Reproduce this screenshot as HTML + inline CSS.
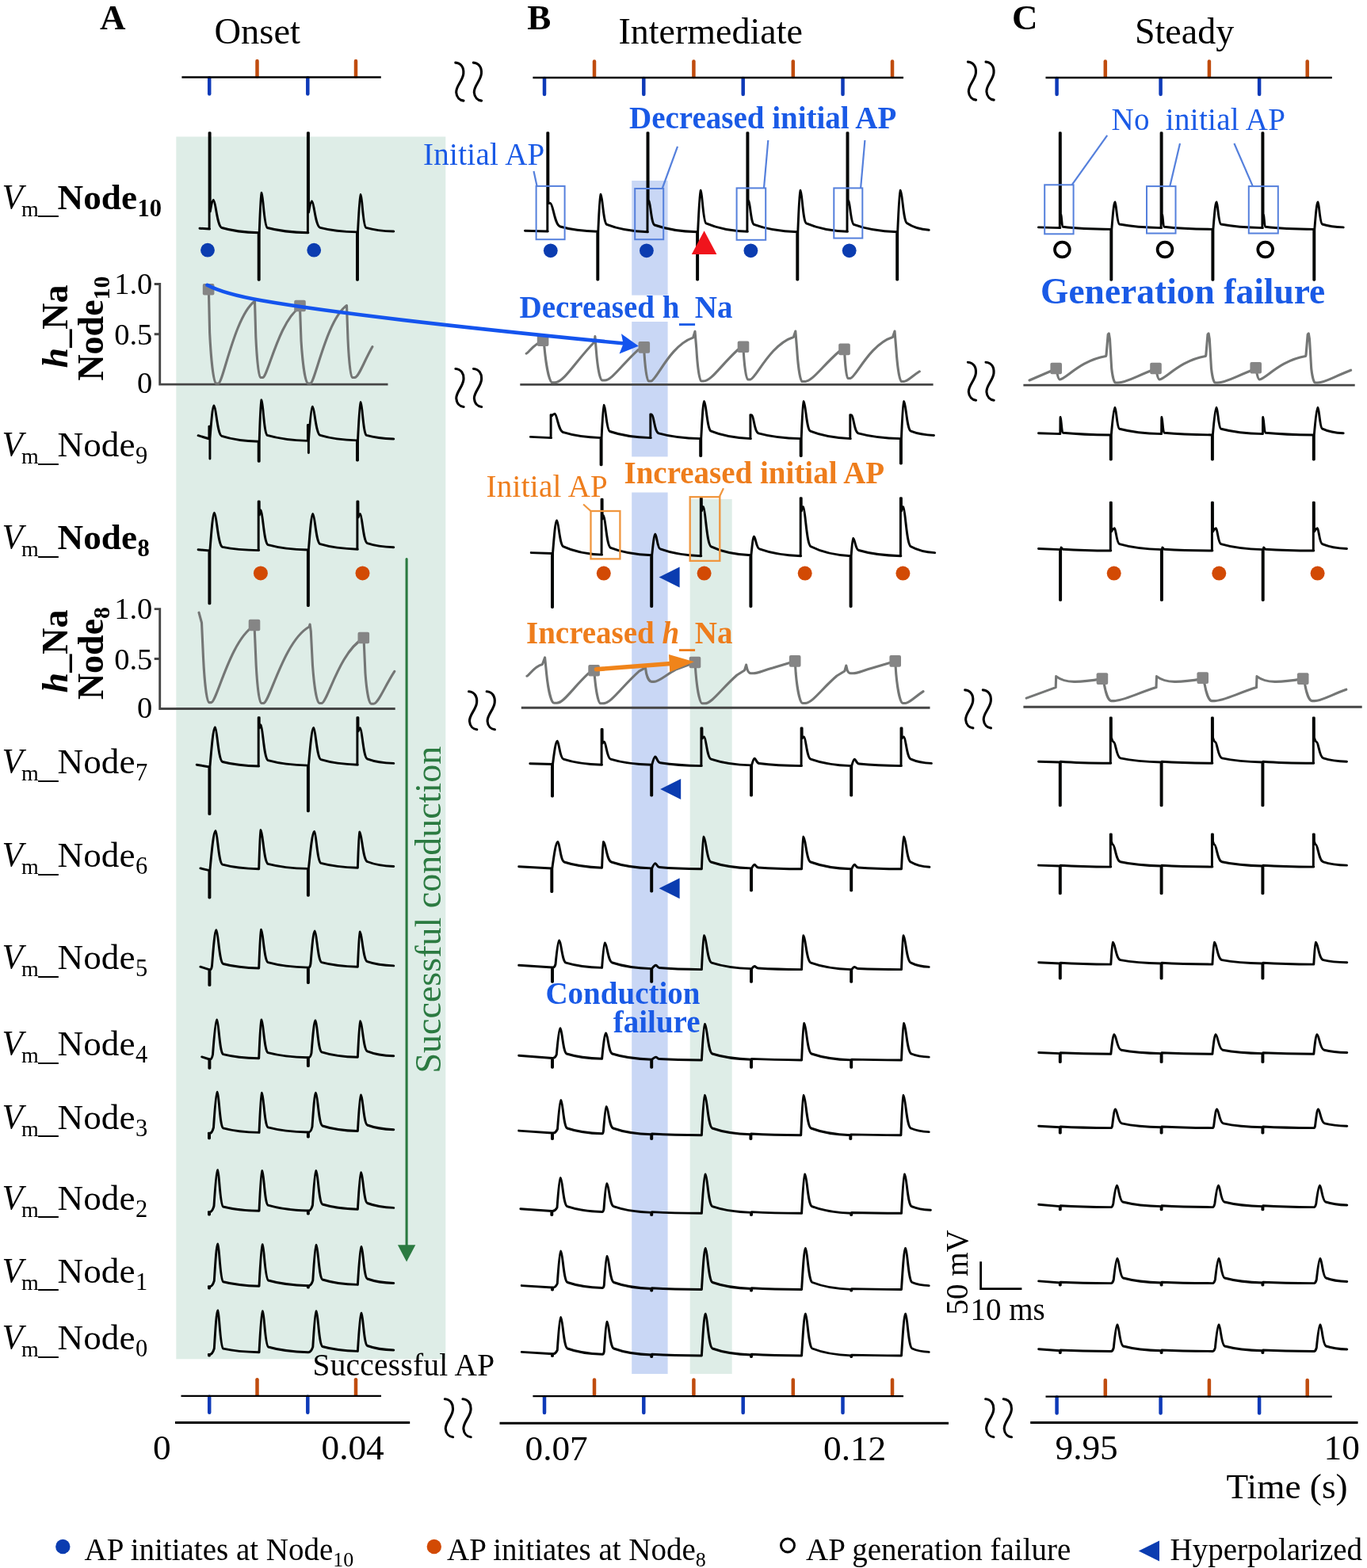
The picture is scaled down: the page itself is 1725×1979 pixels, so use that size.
<!DOCTYPE html>
<html lang="en"><head><meta charset="utf-8"><title>Figure</title>
<style>
html,body{margin:0;padding:0;background:#fff;}
body{width:1725px;height:1979px;overflow:hidden;}
svg{display:block;font-family:'Liberation Serif', 'Times New Roman', Times, serif;}
text{white-space:pre;}
</style></head><body>
<svg width="1725" height="1979" viewBox="0 0 1725 1979">
<rect x="222.3" y="172.5" width="340" height="1542.8" fill="#deede7"/>
<rect x="870.7" y="630" width="53" height="1104" fill="#deede7"/>
<rect x="797.2" y="228" width="45.4" height="144.6" fill="#c9d7f5"/>
<rect x="797.2" y="406" width="45.4" height="170.4" fill="#c9d7f5"/>
<rect x="797.2" y="621.5" width="45.4" height="1112.5" fill="#c9d7f5"/>
<line x1="324.5" y1="77" x2="324.5" y2="96.5" stroke="#c04c0e" stroke-width="4.5" stroke-linecap="round"/>
<line x1="449" y1="77" x2="449" y2="96.5" stroke="#c04c0e" stroke-width="4.5" stroke-linecap="round"/>
<line x1="264.2" y1="98.5" x2="264.2" y2="118.5" stroke="#0e3ab8" stroke-width="4.5" stroke-linecap="round"/>
<line x1="388.3" y1="98.5" x2="388.3" y2="118.5" stroke="#0e3ab8" stroke-width="4.5" stroke-linecap="round"/>
<line x1="229.4" y1="97.5" x2="480.8" y2="97.5" stroke="#000" stroke-width="2.3"/>
<line x1="750" y1="77.5" x2="750" y2="97" stroke="#c04c0e" stroke-width="4.5" stroke-linecap="round"/>
<line x1="875.4" y1="77.5" x2="875.4" y2="97" stroke="#c04c0e" stroke-width="4.5" stroke-linecap="round"/>
<line x1="1000.8" y1="77.5" x2="1000.8" y2="97" stroke="#c04c0e" stroke-width="4.5" stroke-linecap="round"/>
<line x1="1126" y1="77.5" x2="1126" y2="97" stroke="#c04c0e" stroke-width="4.5" stroke-linecap="round"/>
<line x1="687" y1="99" x2="687" y2="119" stroke="#0e3ab8" stroke-width="4.5" stroke-linecap="round"/>
<line x1="812.3" y1="99" x2="812.3" y2="119" stroke="#0e3ab8" stroke-width="4.5" stroke-linecap="round"/>
<line x1="937.7" y1="99" x2="937.7" y2="119" stroke="#0e3ab8" stroke-width="4.5" stroke-linecap="round"/>
<line x1="1063.5" y1="99" x2="1063.5" y2="119" stroke="#0e3ab8" stroke-width="4.5" stroke-linecap="round"/>
<line x1="672.4" y1="98" x2="1140" y2="98" stroke="#000" stroke-width="2.3"/>
<line x1="1394.8" y1="77.5" x2="1394.8" y2="97" stroke="#c04c0e" stroke-width="4.5" stroke-linecap="round"/>
<line x1="1525.9" y1="77.5" x2="1525.9" y2="97" stroke="#c04c0e" stroke-width="4.5" stroke-linecap="round"/>
<line x1="1649.7" y1="77.5" x2="1649.7" y2="97" stroke="#c04c0e" stroke-width="4.5" stroke-linecap="round"/>
<line x1="1333.6" y1="99" x2="1333.6" y2="119" stroke="#0e3ab8" stroke-width="4.5" stroke-linecap="round"/>
<line x1="1464.6" y1="99" x2="1464.6" y2="119" stroke="#0e3ab8" stroke-width="4.5" stroke-linecap="round"/>
<line x1="1589.1" y1="99" x2="1589.1" y2="119" stroke="#0e3ab8" stroke-width="4.5" stroke-linecap="round"/>
<line x1="1319.5" y1="98" x2="1680.8" y2="98" stroke="#000" stroke-width="2.3"/>
<line x1="324.5" y1="1741.3" x2="324.5" y2="1760.8" stroke="#c04c0e" stroke-width="4.5" stroke-linecap="round"/>
<line x1="449" y1="1741.3" x2="449" y2="1760.8" stroke="#c04c0e" stroke-width="4.5" stroke-linecap="round"/>
<line x1="264.2" y1="1762.8" x2="264.2" y2="1782.8" stroke="#0e3ab8" stroke-width="4.5" stroke-linecap="round"/>
<line x1="388.3" y1="1762.8" x2="388.3" y2="1782.8" stroke="#0e3ab8" stroke-width="4.5" stroke-linecap="round"/>
<line x1="228.5" y1="1761.8" x2="481" y2="1761.8" stroke="#000" stroke-width="2.3"/>
<line x1="750" y1="1741.6" x2="750" y2="1761.1" stroke="#c04c0e" stroke-width="4.5" stroke-linecap="round"/>
<line x1="875.4" y1="1741.6" x2="875.4" y2="1761.1" stroke="#c04c0e" stroke-width="4.5" stroke-linecap="round"/>
<line x1="1000.8" y1="1741.6" x2="1000.8" y2="1761.1" stroke="#c04c0e" stroke-width="4.5" stroke-linecap="round"/>
<line x1="1126" y1="1741.6" x2="1126" y2="1761.1" stroke="#c04c0e" stroke-width="4.5" stroke-linecap="round"/>
<line x1="687" y1="1763.1" x2="687" y2="1783.1" stroke="#0e3ab8" stroke-width="4.5" stroke-linecap="round"/>
<line x1="812.3" y1="1763.1" x2="812.3" y2="1783.1" stroke="#0e3ab8" stroke-width="4.5" stroke-linecap="round"/>
<line x1="937.7" y1="1763.1" x2="937.7" y2="1783.1" stroke="#0e3ab8" stroke-width="4.5" stroke-linecap="round"/>
<line x1="1063.5" y1="1763.1" x2="1063.5" y2="1783.1" stroke="#0e3ab8" stroke-width="4.5" stroke-linecap="round"/>
<line x1="672.4" y1="1762.1" x2="1140" y2="1762.1" stroke="#000" stroke-width="2.3"/>
<line x1="1394.8" y1="1742.1" x2="1394.8" y2="1761.6" stroke="#c04c0e" stroke-width="4.5" stroke-linecap="round"/>
<line x1="1525.9" y1="1742.1" x2="1525.9" y2="1761.6" stroke="#c04c0e" stroke-width="4.5" stroke-linecap="round"/>
<line x1="1649.7" y1="1742.1" x2="1649.7" y2="1761.6" stroke="#c04c0e" stroke-width="4.5" stroke-linecap="round"/>
<line x1="1333.6" y1="1763.6" x2="1333.6" y2="1783.6" stroke="#0e3ab8" stroke-width="4.5" stroke-linecap="round"/>
<line x1="1464.6" y1="1763.6" x2="1464.6" y2="1783.6" stroke="#0e3ab8" stroke-width="4.5" stroke-linecap="round"/>
<line x1="1589.1" y1="1763.6" x2="1589.1" y2="1783.6" stroke="#0e3ab8" stroke-width="4.5" stroke-linecap="round"/>
<line x1="1319.5" y1="1762.6" x2="1680.8" y2="1762.6" stroke="#000" stroke-width="2.3"/>
<line x1="221" y1="1795.6" x2="517.2" y2="1795.6" stroke="#000" stroke-width="3"/>
<line x1="630.5" y1="1796.2" x2="1197" y2="1796.2" stroke="#000" stroke-width="3"/>
<line x1="1300.2" y1="1795.5" x2="1713.5" y2="1795.5" stroke="#000" stroke-width="3"/>
<path transform="translate(574.8 79.1)" d="M0 0C7 0.5 10.8 6 10 14C9 23 0.4 29.5 0.9 37.5C1.4 44 5.5 47.5 10.2 48" fill="none" stroke="#000" stroke-width="3.1" stroke-linecap="round"/>
<path transform="translate(597.4 79.1)" d="M0 0C7 0.5 10.8 6 10 14C9 23 0.4 29.5 0.9 37.5C1.4 44 5.5 47.5 10.2 48" fill="none" stroke="#000" stroke-width="3.1" stroke-linecap="round"/>
<path transform="translate(1221.4 78.1)" d="M0 0C7 0.5 10.8 6 10 14C9 23 0.4 29.5 0.9 37.5C1.4 44 5.5 47.5 10.2 48" fill="none" stroke="#000" stroke-width="3.1" stroke-linecap="round"/>
<path transform="translate(1244 78.1)" d="M0 0C7 0.5 10.8 6 10 14C9 23 0.4 29.5 0.9 37.5C1.4 44 5.5 47.5 10.2 48" fill="none" stroke="#000" stroke-width="3.1" stroke-linecap="round"/>
<path transform="translate(574.9 465.5)" d="M0 0C7 0.5 10.8 6 10 14C9 23 0.4 29.5 0.9 37.5C1.4 44 5.5 47.5 10.2 48" fill="none" stroke="#000" stroke-width="3.1" stroke-linecap="round"/>
<path transform="translate(597.5 465.5)" d="M0 0C7 0.5 10.8 6 10 14C9 23 0.4 29.5 0.9 37.5C1.4 44 5.5 47.5 10.2 48" fill="none" stroke="#000" stroke-width="3.1" stroke-linecap="round"/>
<path transform="translate(1221.4 457.2)" d="M0 0C7 0.5 10.8 6 10 14C9 23 0.4 29.5 0.9 37.5C1.4 44 5.5 47.5 10.2 48" fill="none" stroke="#000" stroke-width="3.1" stroke-linecap="round"/>
<path transform="translate(1244 457.2)" d="M0 0C7 0.5 10.8 6 10 14C9 23 0.4 29.5 0.9 37.5C1.4 44 5.5 47.5 10.2 48" fill="none" stroke="#000" stroke-width="3.1" stroke-linecap="round"/>
<path transform="translate(591.6 872.8)" d="M0 0C7 0.5 10.8 6 10 14C9 23 0.4 29.5 0.9 37.5C1.4 44 5.5 47.5 10.2 48" fill="none" stroke="#000" stroke-width="3.1" stroke-linecap="round"/>
<path transform="translate(614.2 872.8)" d="M0 0C7 0.5 10.8 6 10 14C9 23 0.4 29.5 0.9 37.5C1.4 44 5.5 47.5 10.2 48" fill="none" stroke="#000" stroke-width="3.1" stroke-linecap="round"/>
<path transform="translate(1217.7 870.9)" d="M0 0C7 0.5 10.8 6 10 14C9 23 0.4 29.5 0.9 37.5C1.4 44 5.5 47.5 10.2 48" fill="none" stroke="#000" stroke-width="3.1" stroke-linecap="round"/>
<path transform="translate(1240.3 870.9)" d="M0 0C7 0.5 10.8 6 10 14C9 23 0.4 29.5 0.9 37.5C1.4 44 5.5 47.5 10.2 48" fill="none" stroke="#000" stroke-width="3.1" stroke-linecap="round"/>
<path transform="translate(561.4 1765.8)" d="M0 0C7 0.5 10.8 6 10 14C9 23 0.4 29.5 0.9 37.5C1.4 44 5.5 47.5 10.2 48" fill="none" stroke="#000" stroke-width="3.1" stroke-linecap="round"/>
<path transform="translate(584 1765.8)" d="M0 0C7 0.5 10.8 6 10 14C9 23 0.4 29.5 0.9 37.5C1.4 44 5.5 47.5 10.2 48" fill="none" stroke="#000" stroke-width="3.1" stroke-linecap="round"/>
<path transform="translate(1243.7 1765.8)" d="M0 0C7 0.5 10.8 6 10 14C9 23 0.4 29.5 0.9 37.5C1.4 44 5.5 47.5 10.2 48" fill="none" stroke="#000" stroke-width="3.1" stroke-linecap="round"/>
<path transform="translate(1266.3 1765.8)" d="M0 0C7 0.5 10.8 6 10 14C9 23 0.4 29.5 0.9 37.5C1.4 44 5.5 47.5 10.2 48" fill="none" stroke="#000" stroke-width="3.1" stroke-linecap="round"/>
<path d="M194.7 358.5 H201.7 V485.1 H489.5 M194.7 421.8 H201.7" fill="none" stroke="#454545" stroke-width="2.9"/>
<path d="M194.7 768.6 H201.7 V894.5 H498.7 M194.7 831.5 H201.7" fill="none" stroke="#454545" stroke-width="2.9"/>
<line x1="656.3" y1="485.4" x2="1177.6" y2="485.4" stroke="#454545" stroke-width="2.9"/>
<line x1="1291.4" y1="486.1" x2="1709.7" y2="486.1" stroke="#454545" stroke-width="2.9"/>
<line x1="657.8" y1="893.3" x2="1173.5" y2="893.3" stroke="#454545" stroke-width="2.9"/>
<line x1="1291.4" y1="892.3" x2="1718.7" y2="892.3" stroke="#454545" stroke-width="2.9"/>
<path d="M263.4 366 L264.6 420 C266.2 452 269.4 484 272.6 484 L275.8 484 C281.7 481.9 296.4 398.7 321.5 380 L322.8 425 C324 450.8 326.3 476.5 328.6 476.5 L331.8 476.5 C337.9 474.7 352.8 403.9 378.5 388 L380 430 C381.7 457 385.2 484 388.6 484 L391.8 484 C397.7 482 412.4 403.3 437.5 385.6 L439 428 C440.1 452.2 442.2 476.5 444.4 476.5 L447.6 476.5 C452.5 476.5 458.8 457.1 470 437.6" fill="none" stroke="#747675" stroke-width="3.1" stroke-linejoin="round" stroke-linecap="round"/>
<path d="M251 773.2 L254.5 786 L256.5 830 C257.9 858.3 260.8 886.6 263.6 886.6 L266.8 886.6 C273.8 884.7 291 807.4 320.5 790 L321.3 796 L323.2 840 C324.5 863.8 327 887.5 329.6 887.5 L332.8 887.5 C340.3 885.6 358.7 808.4 390.3 791 L391.1 788 L392.3 797 L394.5 840 C396.2 863.8 399.6 887.5 403 887.5 L406.2 887.5 C413 885.9 429.7 820.7 458.5 806 L459.3 812 L461 850 C462.4 869.1 465.3 888.2 468.2 888.2 L471.4 888.2 C477.2 888.2 484.6 867.8 497.8 847.4" fill="none" stroke="#747675" stroke-width="3.1" stroke-linejoin="round" stroke-linecap="round"/>
<path d="M664.1 446.2 C666.8 445.9 673.3 433.7 684.5 431 L686.8 437 C688.9 459.9 693 482.8 697.2 482.8 L700.4 482.8 C711.4 482.8 725.3 457.1 750.2 431.5 L750.9 424.6 L752.3 442 C753.8 461 756.7 480 759.7 480 L762.9 480 C772.2 480 784 460.9 805 441.8 L812.8 439 L813 446 C814.1 463.5 816.2 481 818.4 481 L821.6 481 C828.5 479.9 845.5 436 874.6 426.1 L877 418.3 L878.8 440 C880 460.5 882.4 481 884.8 481 L888 481 C897.5 481 909.5 461.2 931 441.5 L938 438 L938.3 445 C939.4 462 941.5 479 943.7 479 L946.9 479 C954 477.9 971.4 435.1 1001.3 425.5 L1003.8 418 L1005.6 440 C1006.9 460.8 1009.6 481.5 1012.2 481.5 L1015.4 481.5 C1025 481.5 1037.2 462.5 1059 443.5 L1065.5 441 L1065.8 447 C1066.6 462.2 1068.3 477.5 1069.9 477.5 L1073.1 477.5 C1080 476.5 1097.1 434.9 1126.5 425.5 L1129 418 L1130.8 440 C1132.2 460.8 1134.9 481.5 1137.6 481.5 L1140.8 481.5 C1145.1 481.5 1150.5 475.1 1160.3 468.8" fill="none" stroke="#747675" stroke-width="3.1" stroke-linejoin="round" stroke-linecap="round"/>
<path d="M664.9 853.3 C667.4 853 673.7 841.2 684.4 838.5 L687.6 829.9 L689.6 850 C691.5 868.6 695.4 887.3 699.3 887.3 L702.5 887.3 C711.3 887.3 722.4 868.8 742.3 850.2 L749.6 846.3 L750.6 856 C752.1 871.9 755 887.8 757.9 887.8 L761.1 887.8 C771.1 887.8 783.8 867.5 806.5 847.1 L813.3 843.4 L814.3 841.6 L815.6 850 C816.9 855.2 819.5 860.4 822.1 860.4 L825.3 860.4 C831.5 860.4 839.4 852.5 853.4 844.7 L877 836.1 L878 850 C879.6 868.9 882.9 887.8 886.2 887.8 L889.4 887.8 C898.3 887.8 909.7 869.9 930 852 L939.5 846 L941.6 839.1 L943 845 C943.9 847.4 945.6 849.8 947.4 849.8 L950.6 849.8 C956 849.8 962.8 846.4 975 843 L1003.2 834.4 L1004.2 850 C1005.9 868.8 1009.4 887.5 1012.9 887.5 L1016.1 887.5 C1024.9 887.5 1036 870.2 1056 853 L1065.8 847 L1067.8 840 L1069.2 846 C1070 847.9 1071.7 849.8 1073.4 849.8 L1076.6 849.8 C1082 849.8 1088.8 846.4 1101 843 L1129.7 834.4 L1130.7 850 C1132.4 868.8 1135.9 887.5 1139.4 887.5 L1142.6 887.5 C1147.5 887.5 1153.8 880 1165 872.6" fill="none" stroke="#747675" stroke-width="3.1" stroke-linejoin="round" stroke-linecap="round"/>
<path d="M1299 480 L1332.7 465.5 L1334.2 472 C1334.9 475.1 1335.9 479 1337.3 479 C1344.9 478.4 1363.5 454.8 1395.5 449.5 L1396 448 L1398.2 422 L1399.3 420.8 L1400.5 428 L1402.7 465 C1403.7 474 1405.6 483 1407.6 483 L1410.8 483 C1421.3 483 1434.7 474.2 1458.5 465.5 L1460 472 C1460.7 475.1 1461.7 479 1463.1 479 C1470.7 478.4 1489.3 454.8 1521.3 449.5 L1521.8 448 L1524 422 L1525.1 420.8 L1526.3 428 L1528.5 465 C1529.5 474 1531.4 483 1533.4 483 L1536.6 483 C1547.2 483 1560.7 474.2 1584.7 465.5 L1586.2 472 C1586.9 475.1 1587.9 479 1589.3 479 C1596.9 478.4 1615.5 454.8 1647.5 449.5 L1648 448 L1650.2 422 L1651.3 420.8 L1652.5 428 L1654.7 465 C1655.7 474 1657.6 483 1659.6 483 L1662.8 483 C1672 483 1683.7 475.1 1704.6 467.2" fill="none" stroke="#747675" stroke-width="3.1" stroke-linejoin="round" stroke-linecap="round"/>
<path d="M1295.2 881.1 L1332.2 867.6 L1332.7 853.6 C1344.3 862.6 1361.8 861.6 1390.9 856.6 L1393.4 864 C1395.2 874.3 1398.7 884.6 1402.3 884.6 L1405.5 884.6 C1417.3 884.6 1432.2 876.1 1459 867.6 L1459.5 853.6 C1471.1 862.6 1488.6 861.6 1517.7 856.6 L1520.2 864 C1522 874.3 1525.5 884.6 1529.1 884.6 L1532.3 884.6 C1544 884.6 1558.9 876.1 1585.5 867.6 L1586 853.6 C1597.6 862.6 1615.1 861.6 1644.2 856.6 L1646.7 864 C1648.5 874.3 1652 884.6 1655.6 884.6 L1658.8 884.6 C1667.6 884.6 1678.8 877.4 1698.8 870.2" fill="none" stroke="#747675" stroke-width="3.1" stroke-linejoin="round" stroke-linecap="round"/>
<path d="M252 288.2 L264.6 289 L264.1 289 L264.1 167.6 L265.1 167.6 L265.2 267 C266.6 259 267.9 252.8 269.3 252.5 C272.3 253.2 273.8 285.8 280 287.5 C291.7 291 308 293.3 326.7 293.8 L326.2 293.8 L326.2 353.2 L327.2 353.2 L327.2 293.8 C328.2 266 329 244.3 330 243.3 C332 244.2 333.1 285.3 337.3 287.5 C350.2 291 368.3 293.3 388.9 293.8 L388.4 293.8 L388.4 167.6 L389.4 167.6 L389.5 268 C390.9 260.2 392.1 254.2 393.5 253.9 C396.4 254.6 397.9 285.6 404 287.3 C415.8 290.4 432.2 292.5 451 292.9 L450.5 292.9 L450.5 353.2 L451.5 353.2 L451.5 292.9 C452.8 266.8 453.8 246.4 455.1 245.5 C457 246.3 457.9 285.2 461.8 287.3 C470.6 289.9 482.8 291.6 496.8 292" fill="none" stroke="#030504" stroke-width="2.95" stroke-linejoin="round" stroke-linecap="round"/>
<path d="M250.1 549.7 L264.4 554 L263.9 554 L263.9 538.2 L264.9 538.2 L264.9 579 L264.9 579 L264.9 554 C266.7 530.8 268.2 512.7 270 511.9 C272.7 512.7 274.1 548.4 279.8 550.3 C291.5 554.1 307.9 556.6 326.7 557.2 L326.2 557.2 L326.2 582.2 L327.2 582.2 L327.2 557.2 C328.1 528.4 329 505.8 329.9 504.8 C332 505.7 333 547.2 337.3 549.4 C350.2 553.2 368.3 555.8 388.9 556.4 L388.4 556.4 L388.4 536.4 L389.4 536.4 L389.4 571.6 L389.4 571.6 L389.4 556.4 C391.1 532.6 392.6 514.1 394.3 513.2 C397 513.9 398.4 547.6 404.1 549.4 C415.8 553 432.2 555.4 451 555.9 L450.5 555.9 L450.5 580.9 L451.5 580.9 L451.5 555.9 C452.8 529.3 453.8 508.6 455.1 507.6 C457.2 508.4 458.2 547.3 462.5 549.4 C471.1 551.9 483.1 553.6 496.8 554" fill="none" stroke="#030504" stroke-width="2.95" stroke-linejoin="round" stroke-linecap="round"/>
<path d="M250.1 693.7 L264.4 695 L263.9 695 L263.9 761.8 L264.9 761.8 L264.9 695 C266.9 668.8 268.5 648.3 270.5 647.3 C273.4 648.2 274.8 688.2 280.7 690.4 C292.2 692.7 308.3 694.3 326.7 694.6 L326.2 694.6 L326.2 632.9 L327.2 632.9 L327.3 650 C327.9 646.7 328.4 644.1 329 644 C331.6 644.9 332.9 685.4 338.2 687.6 C350.9 691.1 368.6 693.5 388.9 694 L388.4 694 L388.4 764.6 L389.4 764.6 L389.4 694 C391.3 669 392.9 649.5 394.8 648.6 C397.4 649.4 398.7 684.8 404 686.7 C415.9 690.3 432.4 692.7 451.4 693.2 L450.9 693.2 L450.9 632.9 L451.9 632.9 L452 653 C452.9 650.6 453.6 648.7 454.5 648.6 C457 649.3 458.3 683.8 463.5 685.7 C471.8 688.5 483.5 690.3 496.8 690.7" fill="none" stroke="#030504" stroke-width="2.95" stroke-linejoin="round" stroke-linecap="round"/>
<path d="M248.2 965.2 L264.4 968 L263.9 968 L263.9 1027.4 L264.9 1027.4 L264.9 968 C267.2 940.4 269.1 918.9 271.4 917.9 C274 918.8 275.3 959.3 280.7 961.5 C292.2 964.5 308.3 966.6 326.7 967 L326.2 967 L326.2 905.8 L327.2 905.8 L327.3 919 C327.9 916.8 328.4 915.1 329 915 C331.6 915.9 332.9 957.4 338.2 959.6 C350.9 963.2 368.6 965.6 388.9 966.1 L388.4 966.1 L388.4 1023.7 L389.4 1023.7 L389.4 966.1 C391.6 939.9 393.5 919.5 395.7 918.5 C398.3 919.3 399.6 956.7 405 958.7 C416.6 962.3 432.8 964.7 451.4 965.2 L450.9 965.2 L450.9 905.8 L451.9 905.8 L452 923 C452.9 920.7 453.6 918.9 454.5 918.8 C457 919.6 458.3 955.8 463.5 957.8 C471.8 960.9 483.5 963 496.8 963.4" fill="none" stroke="#030504" stroke-width="2.95" stroke-linejoin="round" stroke-linecap="round"/>
<path d="M252.9 1095.9 L264.4 1098.6 L263.9 1098.6 L263.9 1133 L264.9 1133 L264.9 1098.6 C267.4 1071.1 269.5 1049.6 272 1048.6 C274.4 1049.5 275.7 1089.1 280.7 1091.2 C292.2 1094.3 308.3 1096.4 326.7 1096.8 C327.5 1069.7 328.2 1048.6 329 1047.6 C331.6 1048.5 332.9 1088.2 338.2 1090.3 C350.9 1093.7 368.6 1095.9 388.9 1096.4 L388.4 1096.4 L388.4 1130.2 L389.4 1130.2 L389.4 1096.4 C392 1070.6 394.1 1050.4 396.7 1049.5 C399 1050.3 400.2 1087.4 405 1089.4 C416.6 1092.6 432.8 1094.8 451.4 1095.3 C452.2 1070.4 453 1050.9 453.8 1050 C456.5 1050.8 457.9 1085.6 463.5 1087.5 C471.8 1090.8 483.5 1093 496.8 1093.5" fill="none" stroke="#030504" stroke-width="2.95" stroke-linejoin="round" stroke-linecap="round"/>
<path d="M252.9 1220.2 L264.4 1223.9 L263.9 1223.9 L263.9 1243.4 L264.9 1243.4 L264.9 1223.9 Q266.7 1224.2 267.5 1219 C269.4 1194.1 271 1174.7 272.9 1173.8 C275.3 1174.7 276.6 1214.4 281.6 1216.5 C292.9 1219.5 308.7 1221.6 326.7 1222 C327.7 1195.2 328.5 1174.2 329.5 1173.2 C331.9 1174 333.2 1212.5 338.2 1214.6 C350.9 1218.2 368.6 1220.6 388.9 1221.1 L388.4 1221.1 L388.4 1240.6 L389.4 1240.6 L389.4 1221.1 Q391.2 1221.4 392 1216 C393.8 1193.5 395.4 1175.9 397.2 1175.1 C399.6 1175.9 400.9 1212.6 405.9 1214.6 C417.3 1217.7 433.2 1219.8 451.4 1220.2 C452.4 1195.9 453.2 1176.9 454.2 1176 C456.8 1176.8 458.1 1211.8 463.5 1213.7 C471.8 1216.6 483.5 1218.5 496.8 1218.9" fill="none" stroke="#030504" stroke-width="2.95" stroke-linejoin="round" stroke-linecap="round"/>
<path d="M254.7 1333.9 L264.4 1337 L263.9 1337 L263.9 1348.2 L264.9 1348.2 L264.9 1337 Q267.2 1337.3 268.5 1331 C270.3 1306.8 271.9 1287.9 273.7 1287 C275.9 1287.9 277 1328.4 281.6 1330.6 C292.9 1333.5 308.7 1335.4 326.7 1335.8 C327.8 1309 328.8 1288 329.9 1287 C332.2 1287.8 333.4 1326.6 338.2 1328.7 C350.9 1332.1 368.6 1334.3 388.9 1334.8 L388.4 1334.8 L388.4 1345.4 L389.4 1345.4 L389.4 1334.8 Q391.7 1335.1 393 1329 C394.8 1306.4 396.2 1288.7 398 1287.9 C400.2 1288.7 401.3 1325.8 405.9 1327.8 C417.3 1331.4 433.2 1333.8 451.4 1334.3 C452.6 1309.3 453.5 1289.7 454.7 1288.8 C457.2 1289.6 458.4 1324.9 463.5 1326.8 C471.8 1330.1 483.5 1332.3 496.8 1332.8" fill="none" stroke="#030504" stroke-width="2.95" stroke-linejoin="round" stroke-linecap="round"/>
<path d="M263.3 1430.3 L263.5 1430.3 L263.5 1436.8 L264.5 1436.8 L264.5 1430.3 Q267.5 1430.6 269.5 1423 C271.1 1398.4 272.6 1379.2 274.2 1378.3 C276.3 1379.2 277.3 1421.5 281.6 1423.8 C293 1426.9 308.8 1429 327 1429.4 C328.2 1401.8 329.2 1380.3 330.4 1379.3 C332.6 1380.2 333.7 1420.7 338.2 1422.9 C350.9 1426.3 368.6 1428.5 388.9 1429 L388.4 1429 L388.4 1435 L389.4 1435 L389.4 1429 Q392.2 1429.3 394 1422 C395.6 1398.5 396.9 1380.2 398.5 1379.3 C400.9 1380.1 402 1418.9 406.9 1421 C418 1424.6 433.6 1427 451.4 1427.5 C452.8 1402.5 454.1 1382.9 455.5 1382 C457.7 1382.8 458.9 1418.1 463.5 1420 C471.8 1423.1 483.5 1425.2 496.8 1425.7" fill="none" stroke="#030504" stroke-width="2.95" stroke-linejoin="round" stroke-linecap="round"/>
<path d="M263.3 1529.6 L263.5 1529.6 L263.5 1533 L264.5 1533 L264.5 1529.6 Q267.8 1529.9 270 1522 C271.6 1497.1 273 1477.6 274.6 1476.7 C276.6 1477.6 277.5 1520.7 281.6 1523 C293 1525.9 308.8 1527.9 327 1528.3 C328.3 1500.4 329.5 1478.6 330.8 1477.6 C332.9 1478.5 333.9 1519 338.2 1521.2 C350.9 1524.9 368.6 1527.5 388.9 1528 L388.4 1528 L388.4 1532 L389.4 1532 L389.4 1528 Q392.4 1528.3 394.5 1521 C396 1497.1 397.4 1478.5 398.9 1477.6 C401.1 1478.4 402.3 1517.9 406.9 1520 C418 1523.4 433.6 1525.7 451.4 1526.2 C452.9 1500.7 454.2 1480.7 455.7 1479.8 C457.9 1480.6 459 1516.6 463.5 1518.5 C471.8 1521.7 483.5 1523.9 496.8 1524.4" fill="none" stroke="#030504" stroke-width="2.95" stroke-linejoin="round" stroke-linecap="round"/>
<path d="M263.3 1623.8 L263.5 1623.8 L263.5 1626 L264.5 1626 L264.5 1623.8 Q267.9 1624.1 270.3 1616.5 C271.9 1590.9 273.2 1570.9 274.8 1570 C276.7 1571 277.7 1615.3 281.6 1617.7 C293 1620.7 308.8 1622.8 327 1623.2 C328.5 1594.3 329.7 1571.8 331.2 1570.7 C333.2 1571.6 334.3 1613.7 338.5 1616 C351.1 1619.7 368.7 1622.2 388.9 1622.7 L388.4 1622.7 L388.4 1625 L389.4 1625 L389.4 1622.7 Q392.6 1623 394.8 1616 C396.3 1591.4 397.6 1572.2 399.1 1571.3 C401.3 1572.2 402.4 1612.8 406.9 1615 C418 1618.5 433.6 1620.9 451.4 1621.4 C453 1595.1 454.4 1574.5 456 1573.5 C458.1 1574.3 459.1 1612 463.5 1614 C471.8 1617 483.5 1619.1 496.8 1619.5" fill="none" stroke="#030504" stroke-width="2.95" stroke-linejoin="round" stroke-linecap="round"/>
<path d="M263.3 1709.5 L263.5 1709.5 L263.5 1711 L264.5 1711 L264.5 1709.5 Q267.9 1709.8 270.3 1702 C271.9 1675.5 273.2 1654.9 274.8 1653.9 C276.7 1654.9 277.7 1699.7 281.6 1702.1 C293 1704.6 308.8 1706.3 327 1706.7 C328.5 1678.2 329.9 1655.8 331.4 1654.8 C333.4 1655.7 334.4 1697.7 338.5 1700 C351.1 1703.7 368.7 1706.2 388.9 1706.7 Q392.4 1707 394.8 1700 C396.3 1675.1 397.6 1655.7 399.1 1654.8 C401.3 1655.7 402.4 1697.3 406.9 1699.5 C418 1702.7 433.6 1704.9 451.4 1705.4 C453 1678.9 454.4 1658.2 456 1657.2 C458.1 1658 459.1 1696.4 463.5 1698.5 C471.8 1701.5 483.5 1703.6 496.8 1704" fill="none" stroke="#030504" stroke-width="2.95" stroke-linejoin="round" stroke-linecap="round"/>
<path d="M662.5 291.2 L691.3 292 L690.8 292 L690.8 167.6 L691.8 167.6 L691.9 256 C692.8 256.3 693.6 256.5 694.5 256.5 C698 257.1 699.8 284.5 707 286 C718.8 289.4 735.4 291.7 754.3 292.2 L753.8 292.2 L753.8 352.9 L754.8 352.9 L754.8 292.2 C755.9 266.3 756.9 246.1 758 245.2 C760.2 246 761.3 281.5 765.8 283.4 C778.7 288.6 796.8 292 817.5 292.8 L817 292.8 L817 167.6 L818 167.6 L818.1 252 C818.4 252.6 818.3 253 818.6 253 C820.7 253.6 821.7 282.4 826 284 C839.5 288.8 858.5 292.1 880.1 292.8 L879.6 292.8 L879.6 352.9 L880.6 352.9 L880.6 292.8 C881.9 263.9 882.9 241.3 884.2 240.2 C886.1 241 887.1 279.7 891 281.8 C904.1 287.5 922.4 291.4 943.4 292.2 L942.9 292.2 L942.9 167.6 L943.9 167.6 L944 252 C944.3 252.6 944.2 253 944.5 253 C946.5 253.6 947.4 281.9 951.5 283.4 C965.2 288.6 984.4 292 1006.3 292.8 L1005.8 292.8 L1005.8 352.9 L1006.8 352.9 L1006.8 292.8 C1007.9 263.9 1008.9 241.3 1010 240.2 C1012.1 241 1013.1 279.7 1017.5 281.8 C1030.5 287.5 1048.7 291.4 1069.5 292.2 L1069 292.2 L1069 167.6 L1070 167.6 L1070.1 252 C1070.4 252.6 1070.3 253 1070.6 253 C1072.5 253.6 1073.5 281.9 1077.4 283.4 C1091.1 288.6 1110.3 292 1132.2 292.8 L1131.7 292.8 L1131.7 352.9 L1132.7 352.9 L1132.7 292.8 C1133.9 263.9 1135 241.3 1136.2 240.2 C1138.6 241 1139.8 279.7 1144.7 281.8 C1151.6 286.5 1161.2 289.6 1172.2 290.3" fill="none" stroke="#030504" stroke-width="2.95" stroke-linejoin="round" stroke-linecap="round"/>
<path d="M669.4 551.4 L695.6 552.6 L695.1 552.6 L695.1 523.6 L696.1 523.6 L696.2 525 C697.5 523.5 698.7 522.4 700 522.3 C703.1 522.8 704.6 544.5 711 545.7 C722.9 549.5 739.6 552 758.6 552.6 L758.1 552.6 L758.1 586.8 L759.1 586.8 L759.1 552.6 C760.2 529.9 761.1 512.1 762.2 511.3 C764.2 512 765.3 542.8 769.5 544.5 C782.5 549 800.6 552 821.3 552.6 L820.8 552.6 L820.8 523 L821.8 523 L821.9 523.5 C822.2 523.5 822.3 523.5 822.6 523.5 C825 524 826.1 545.6 831 546.8 C844.3 550.5 862.9 553.1 884.2 553.6 L883.7 553.6 L883.7 575.5 L884.7 575.5 L884.7 553.6 C886.1 527.8 887.2 507.5 888.6 506.6 C891 507.4 892.3 542.3 897.3 544.2 C909.8 549.4 927.4 552.8 947.4 553.6 L946.9 553.6 L946.9 523.6 L947.9 523.6 L948 524 C948.3 524 948.4 524 948.7 524 C951 524.5 952.2 545.7 957 546.8 C970.4 550.5 989.2 553.1 1010.7 553.6 L1010.2 553.6 L1010.2 575.5 L1011.2 575.5 L1011.2 553.6 C1012.2 527.8 1013.1 507.5 1014.1 506.6 C1016.5 507.4 1017.7 542.3 1022.6 544.2 C1035.3 549.4 1053 552.8 1073.3 553.6 L1072.8 553.6 L1072.8 523.6 L1073.8 523.6 L1073.9 524 C1074.2 524 1074.3 524 1074.6 524 C1077 524.5 1078.1 545.7 1083 546.8 C1096.5 550.5 1115.3 553.1 1136.9 553.6 L1136.4 553.6 L1136.4 584.9 L1137.4 584.9 L1137.4 553.6 C1138.5 527.8 1139.5 507.5 1140.6 506.6 C1143.1 507.4 1144.3 542.3 1149.4 544.2 C1156.7 547.1 1166.9 549.1 1178.5 549.5" fill="none" stroke="#030504" stroke-width="2.95" stroke-linejoin="round" stroke-linecap="round"/>
<path d="M670.3 697.6 L697 698.5 L696.5 698.5 L696.5 766.5 L697.5 766.5 L697.5 698.5 C699.3 675.6 700.8 657.7 702.6 656.9 C705 657.6 706.1 688.2 711 689.8 C723.1 695.5 740.2 699.3 759.6 700.1 L759.1 700.1 L759.1 630.3 L760.1 630.3 L760.2 655 C760.7 652.6 761 650.7 761.5 650.6 C764 651.4 765.3 689.3 770.5 691.3 C783.4 696.5 801.5 699.9 822.2 700.7 L821.7 700.7 L821.7 765.5 L822.7 765.5 L822.7 700.7 C824.2 686.1 825.4 674.6 826.9 674.1 C828.7 674.5 829.5 692 833.2 692.9 C846.1 697.7 864.2 701 884.8 701.7 L884.3 701.7 L884.3 628.7 L885.3 628.7 L885.4 645 C886.1 642.1 886.8 639.8 887.5 639.7 C890.2 640.7 891.6 687.3 897.3 689.8 C909.8 695.8 927.4 699.8 947.4 700.7 L946.9 700.7 L946.9 765.5 L947.9 765.5 L947.9 700.7 C949.2 687.8 950.2 677.7 951.5 677.2 C953.4 677.5 954.4 692.1 958.4 692.9 C971.5 697.7 989.8 701 1010.7 701.7 L1010.2 701.7 L1010.2 628.7 L1011.2 628.7 L1011.3 645 C1012.1 642.1 1012.7 639.8 1013.5 639.7 C1016.2 640.7 1017.6 687.3 1023.2 689.8 C1035.8 696.3 1053.4 700.7 1073.6 701.7 L1073.1 701.7 L1073.1 765.5 L1074.1 765.5 L1074.1 701.7 C1075 689.4 1075.8 679.8 1076.7 679.4 C1078.6 679.7 1079.6 693.7 1083.6 694.5 C1096.9 698.5 1115.6 701.1 1136.9 701.7 L1136.4 701.7 L1136.4 628.7 L1137.4 628.7 L1137.5 645 C1138.3 642.1 1138.9 639.8 1139.7 639.7 C1142.4 640.7 1143.8 687.3 1149.4 689.8 C1157 694.1 1167.6 697 1179.7 697.6" fill="none" stroke="#030504" stroke-width="2.95" stroke-linejoin="round" stroke-linecap="round"/>
<path d="M668.8 963.7 L697 964.5 L696.5 964.5 L696.5 1005 L697.5 1005 L697.5 964.5 C699.5 948.4 701.2 935.9 703.2 935.3 C705.4 935.8 706.5 957 711 958.1 C723.1 962.1 740.2 964.7 759.6 965.3 L759.1 965.3 L759.1 920.5 L760.1 920.5 L760.2 938 C761 937 761.7 936.2 762.5 936.2 C764.7 936.6 765.9 957 770.5 958.1 C783.4 962.1 801.5 964.7 822.2 965.3 L821.7 965.3 L821.7 1004.1 L822.7 1004.1 L822.7 965.3 C824.2 959.6 825.4 955.2 826.9 955 C828.7 955.2 829.5 962.4 833.2 962.8 C846.2 964.9 864.5 966.3 885.4 966.6 L884.9 966.6 L884.9 919 L885.9 919 L886 932 C886.9 930.8 887.6 929.9 888.5 929.9 C891 930.5 892.2 956.7 897.3 958.1 C910 962.4 927.7 965.3 948 965.9 L947.5 965.9 L947.5 1004.1 L948.5 1004.1 L948.5 965.9 C949.8 961.1 950.8 957.4 952.1 957.2 C953.8 957.3 954.6 963.2 958 963.5 C971.4 965.2 990.2 966.4 1011.6 966.6 L1011.1 966.6 L1011.1 919 L1012.1 919 L1012.2 932 C1013 930.8 1013.7 929.9 1014.5 929.9 C1016.9 930.5 1018.1 956.7 1023 958.1 C1035.8 962.8 1053.7 965.9 1074.2 966.6 L1073.7 966.6 L1073.7 1004.1 L1074.7 1004.1 L1074.7 966.6 C1076 961.9 1077 958.3 1078.3 958.1 C1079.9 958.2 1080.7 963.7 1084 964 C1097.4 965.4 1116.1 966.4 1137.5 966.6 L1137 966.6 L1137 919 L1138 919 L1138.1 932 C1138.9 930.8 1139.7 929.9 1140.5 929.9 C1143 930.5 1144.2 956.7 1149.4 958.1 C1155.9 961 1165 963 1175.4 963.4" fill="none" stroke="#030504" stroke-width="2.95" stroke-linejoin="round" stroke-linecap="round"/>
<path d="M654.7 1093.7 L696.3 1096 L695.8 1096 L695.8 1125.6 L696.8 1125.6 L696.8 1096 C699.3 1077.5 701.4 1063.1 703.9 1062.4 C706.2 1062.9 707.3 1086.7 712 1088 C723.9 1092 740.6 1094.6 759.6 1095.2 C760.3 1077.2 760.8 1063.1 761.5 1062.4 C764.3 1062.9 765.7 1086.7 771.5 1088 C784.2 1092.3 801.9 1095.3 822.2 1095.9 L821.7 1095.9 L821.7 1125 L822.7 1125 L822.7 1095.9 C824.2 1092.4 825.4 1089.7 826.9 1089.6 C828.3 1089.7 829 1094.3 832 1094.5 C845.4 1095.8 864 1096.6 885.4 1096.8 C886.3 1074.4 887.1 1056.9 888 1056.1 C890.6 1056.7 891.9 1086.4 897.3 1088 C910 1092.3 927.7 1095.3 948 1095.9 L947.5 1095.9 L947.5 1124 L948.5 1124 L948.5 1095.9 C949.8 1093.3 950.8 1091.3 952.1 1091.2 C953.5 1091.3 954.2 1094.8 957 1095 C970.6 1096 989.8 1096.7 1011.6 1096.8 C1012.4 1074.4 1013 1056.9 1013.8 1056.1 C1016.4 1056.7 1017.7 1086.4 1023 1088 C1035.8 1092.8 1053.7 1096.1 1074.2 1096.8 L1073.7 1096.8 L1073.7 1124 L1074.7 1124 L1074.7 1096.8 C1076 1093.7 1077 1091.3 1078.3 1091.2 C1079.6 1091.3 1080.3 1094.8 1083 1095 C1096.6 1096 1115.7 1096.7 1137.5 1096.8 C1138.6 1074.4 1139.5 1056.9 1140.6 1056.1 C1143.1 1056.7 1144.3 1086.4 1149.4 1088 C1155.3 1091.5 1163.5 1093.8 1172.9 1094.3" fill="none" stroke="#030504" stroke-width="2.95" stroke-linejoin="round" stroke-linecap="round"/>
<path d="M654.7 1218.3 L697 1221 L696.5 1221 L696.5 1239.2 L697.5 1239.2 L697.5 1221 Q699.8 1221.3 701 1217 C702.6 1200.5 704.1 1187.6 705.7 1187 C708.1 1187.6 709.3 1213.7 714.2 1215.1 C725.6 1218.6 741.4 1220.9 759.6 1221.4 C760.9 1204.1 762 1190.6 763.3 1190 C765.9 1190.5 767.2 1213.8 772.7 1215 C785.1 1219.2 802.4 1222 822.2 1222.6 L821.7 1222.6 L821.7 1239.2 L822.7 1239.2 L822.7 1222.6 C824.5 1220.2 826 1218.4 827.8 1218.3 C829 1218.4 829.6 1221.3 832 1221.5 C845.4 1222.7 864 1223.4 885.4 1223.6 C886.5 1200 887.5 1181.6 888.6 1180.7 C891.2 1181.4 892.5 1213.4 898 1215.1 C910.5 1219.2 928 1222 948 1222.6 L947.5 1222.6 L947.5 1239.2 L948.5 1239.2 L948.5 1222.6 C949.8 1220.9 950.8 1219.6 952.1 1219.5 C953.5 1219.5 954.2 1221.9 957 1222 C970.6 1222.9 989.8 1223.5 1011.6 1223.6 C1012.4 1200 1013 1181.6 1013.8 1180.7 C1016.4 1181.4 1017.7 1213.4 1023.2 1215.1 C1036 1219.8 1053.8 1222.9 1074.2 1223.6 L1073.7 1223.6 L1073.7 1239.2 L1074.7 1239.2 L1074.7 1223.6 C1076 1221.8 1077 1220.5 1078.3 1220.4 C1079.6 1220.4 1080.3 1222.4 1083 1222.5 C1096.6 1223.1 1115.7 1223.5 1137.5 1223.6 C1138.4 1200 1139.1 1181.6 1140 1180.7 C1142.6 1181.4 1143.9 1213.4 1149.4 1215.1 C1155.1 1218 1163.1 1220 1172.2 1220.4" fill="none" stroke="#030504" stroke-width="2.95" stroke-linejoin="round" stroke-linecap="round"/>
<path d="M654.7 1332.2 L697 1335.5 L696.5 1335.5 L696.5 1347.2 L697.5 1347.2 L697.5 1335.5 Q700.4 1335.8 702.3 1331 C703.9 1312.7 705.4 1298.5 707 1297.8 C709.3 1298.4 710.4 1328.4 715.1 1330 C726.2 1333.5 741.8 1335.8 759.6 1336.3 C761.4 1318.5 762.9 1304.6 764.6 1304 C766.9 1304.5 768 1328.7 772.7 1330 C785.1 1334 802.4 1336.6 822.2 1337.2 L821.7 1337.2 L821.7 1347.2 L822.7 1347.2 L822.7 1337.2 C824.5 1335.5 826 1334.2 827.8 1334.1 C829 1334.1 829.6 1336.4 832 1336.5 C845.4 1337.3 864 1337.8 885.4 1337.9 C886.8 1312.9 888.1 1293.4 889.5 1292.5 C892.1 1293.2 893.4 1328.1 898.9 1330 C911.2 1334 928.4 1336.6 948 1337.2 L947.5 1337.2 L947.5 1347.2 L948.5 1347.2 L948.5 1336.4 C964.3 1337.2 986.4 1337.8 1011.6 1337.9 C1012.7 1312.4 1013.6 1292.4 1014.7 1291.5 C1017.3 1292.3 1018.6 1328.1 1024 1330 C1036.5 1334.3 1054.1 1337.3 1074.2 1337.9 L1073.7 1337.9 L1073.7 1347.2 L1074.7 1347.2 L1074.7 1337.1 C1090.4 1337.5 1112.4 1337.8 1137.5 1337.9 C1138.6 1312.4 1139.5 1292.4 1140.6 1291.5 C1143.2 1292.3 1144.5 1328.1 1150 1330 C1155.5 1332.3 1163.3 1333.8 1172.2 1334.1" fill="none" stroke="#030504" stroke-width="2.95" stroke-linejoin="round" stroke-linecap="round"/>
<path d="M654.7 1427.1 L697 1430 L696.5 1430 L696.5 1437.4 L697.5 1437.4 L697.5 1430 Q701 1430.3 703.5 1425 C705 1405 706.4 1389.3 707.9 1388.6 C710.1 1389.3 711.2 1422.2 715.7 1424 C726.7 1427.7 742 1430.3 759.6 1430.8 Q761 1431.1 761.5 1427 C762.8 1410.3 763.9 1397.3 765.2 1396.7 C767.6 1397.2 768.8 1422.6 773.7 1424 C785.8 1428.3 802.8 1431.2 822.2 1431.8 L821.7 1431.8 L821.7 1437.4 L822.7 1437.4 L822.7 1431 C838.4 1431.9 860.3 1432.6 885.4 1432.7 C886.8 1405 888.1 1383.3 889.5 1382.3 C892.1 1383.1 893.4 1421.9 898.9 1424 C911 1428.3 928 1431.2 947.4 1431.8 L946.9 1431.8 L946.9 1437.4 L947.9 1437.4 L947.9 1431 C963.6 1431.9 985.6 1432.6 1010.7 1432.7 C1011.9 1405 1012.9 1383.3 1014.1 1382.3 C1016.7 1383.1 1018 1421.9 1023.5 1424 C1036 1428.8 1053.4 1432 1073.3 1432.7 L1072.8 1432.7 L1072.8 1437.4 L1073.8 1437.4 L1073.8 1431.9 C1089.6 1432.3 1111.7 1432.6 1136.9 1432.7 C1138 1405 1138.9 1383.3 1140 1382.3 C1142.6 1383.1 1143.9 1421.9 1149.4 1424 C1155.1 1426.5 1163.1 1428.2 1172.2 1428.6" fill="none" stroke="#030504" stroke-width="2.95" stroke-linejoin="round" stroke-linecap="round"/>
<path d="M656.9 1525.7 L696.3 1528.5 L695.8 1528.5 L695.8 1533.5 L696.8 1533.5 L696.8 1528.5 Q700.4 1528.8 703 1524 C704.5 1503.4 705.8 1487.3 707.3 1486.6 C709.7 1487.3 710.8 1520.8 715.7 1522.6 C726.7 1526.4 742 1528.9 759.6 1529.5 Q761.3 1529.8 762 1526 C763.3 1508.3 764.5 1494.4 765.8 1493.8 C768.2 1494.4 769.4 1521.2 774.3 1522.6 C786.3 1526.9 803 1529.8 822.2 1530.4 L821.7 1530.4 L821.7 1533.5 L822.7 1533.5 L822.7 1529.6 C838.4 1530.5 860.3 1531.2 885.4 1531.3 C887 1504.1 888.5 1482.9 890.1 1481.9 C892.6 1482.7 893.8 1520.6 898.9 1522.6 C911.2 1526.9 928.4 1529.8 948 1530.4 L947.5 1530.4 L947.5 1533.5 L948.5 1533.5 L948.5 1529.6 C964.3 1530.5 986.4 1531.2 1011.6 1531.3 C1013 1504.1 1014.3 1482.9 1015.7 1481.9 C1018.2 1482.7 1019.4 1520.6 1024.5 1522.6 C1036.9 1527.4 1054.3 1530.6 1074.2 1531.3 L1073.7 1531.3 L1073.7 1533.5 L1074.7 1533.5 L1074.7 1530.5 C1090.4 1530.9 1112.4 1531.2 1137.5 1531.3 C1138.9 1504.1 1140.1 1482.9 1141.5 1481.9 C1144 1482.7 1145.2 1520.6 1150.3 1522.6 C1156.3 1525.2 1164.8 1526.9 1174.4 1527.3" fill="none" stroke="#030504" stroke-width="2.95" stroke-linejoin="round" stroke-linecap="round"/>
<path d="M658.3 1622.6 L697 1625 L696.5 1625 L696.5 1628 L697.5 1628 L697.5 1625 Q700.9 1625.3 703.3 1620 C704.8 1597.5 706.2 1579.9 707.7 1579.1 C710 1579.9 711.2 1616.5 716 1618.5 C727 1622.3 742.4 1624.9 760 1625.5 Q761.6 1625.8 762.3 1622 C763.6 1601.9 764.7 1586.2 766 1585.5 C768.4 1586.2 769.6 1616.8 774.5 1618.5 C786.4 1622.9 803.1 1625.9 822.2 1626.5 L821.7 1626.5 L821.7 1629 L822.7 1629 L822.7 1625.7 C838.4 1626.6 860.3 1627.3 885.4 1627.4 C887.1 1598.8 888.5 1576.4 890.2 1575.4 C892.7 1576.3 893.9 1616.3 899 1618.5 C911.2 1622.9 928.4 1625.9 948 1626.5 L947.5 1626.5 L947.5 1629 L948.5 1629 L948.5 1625.7 C964.3 1626.6 986.4 1627.3 1011.6 1627.4 C1013.3 1598.8 1014.7 1576.4 1016.4 1575.4 C1018.8 1576.3 1020 1616.3 1025 1618.5 C1037.3 1623.4 1054.5 1626.7 1074.2 1627.4 L1073.7 1627.4 L1073.7 1629 L1074.7 1629 L1074.7 1626.6 C1090.4 1627 1112.4 1627.3 1137.5 1627.4 C1139.3 1598.8 1140.8 1576.4 1142.6 1575.4 C1145 1576.3 1146.1 1616.3 1151 1618.5 C1156.3 1620.8 1163.7 1622.3 1172.2 1622.6" fill="none" stroke="#030504" stroke-width="2.95" stroke-linejoin="round" stroke-linecap="round"/>
<path d="M658.3 1706.4 L697 1708.8 L696.5 1708.8 L696.5 1711.5 L697.5 1711.5 L697.5 1708.8 Q700.9 1709.1 703.3 1704 C704.8 1681.2 706.2 1663.4 707.7 1662.6 C710 1663.4 711.2 1700 716 1702 C727 1706 742.4 1708.7 760 1709.3 Q761.6 1709.6 762.3 1706 C763.6 1685.2 764.7 1669 766 1668.2 C768.4 1668.9 769.6 1700.3 774.5 1702 C786.4 1706.4 803.1 1709.4 822.2 1710 L821.7 1710 L821.7 1712.5 L822.7 1712.5 L822.7 1709.2 C838.4 1710.1 860.3 1710.8 885.4 1710.9 C887.1 1681.9 888.5 1659.3 890.2 1658.2 C892.7 1659.1 893.9 1699.8 899 1702 C911.2 1706.4 928.4 1709.4 948 1710 L947.5 1710 L947.5 1712.5 L948.5 1712.5 L948.5 1709.2 C964.3 1710.1 986.4 1710.8 1011.6 1710.9 C1013.3 1681.9 1014.7 1659.3 1016.4 1658.2 C1018.8 1659.1 1020 1699.8 1025 1702 C1037.3 1706.9 1054.5 1710.2 1074.2 1710.9 L1073.7 1710.9 L1073.7 1712.5 L1074.7 1712.5 L1074.7 1710.1 C1090.4 1710.5 1112.4 1710.8 1137.5 1710.9 C1139.3 1681.9 1140.8 1659.3 1142.6 1658.2 C1145 1659.1 1146.1 1699.8 1151 1702 C1156.3 1704.4 1163.7 1706 1172.2 1706.4" fill="none" stroke="#030504" stroke-width="2.95" stroke-linejoin="round" stroke-linecap="round"/>
<path d="M1310.5 286.9 L1337.8 287.6 L1337.3 287.6 L1337.3 167.8 L1338.3 167.8 L1338.4 270 C1338.7 270 1338.4 270 1338.7 270 C1339.4 270.3 1339.8 285.4 1341.3 286.2 C1356.5 288 1377.9 289.1 1402.3 289.4 L1401.8 289.4 L1401.8 353.2 L1402.8 353.2 L1402.8 289.4 C1404.3 270.5 1405.5 255.7 1407 255 C1408.6 255.6 1409.4 281.6 1412.6 283 C1425.8 285.5 1444.4 287.2 1465.6 287.6 L1465.1 287.6 L1465.1 167.8 L1466.1 167.8 L1466.2 270 C1466.5 270 1466.2 270 1466.5 270 C1467.2 270.3 1467.6 285.4 1469.1 286.2 C1484.4 288 1505.9 289.1 1530.4 289.4 L1529.9 289.4 L1529.9 353.2 L1530.9 353.2 L1530.9 289.4 C1532.4 270.5 1533.6 255.7 1535.1 255 C1536.7 255.6 1537.5 281.6 1540.7 283 C1553.9 285.5 1572.3 287.2 1593.4 287.6 L1592.9 287.6 L1592.9 167.8 L1593.9 167.8 L1594 270 C1594.3 270 1594 270 1594.3 270 C1595 270.3 1595.4 285.4 1596.9 286.2 C1612.2 288 1633.7 289.1 1658.3 289.4 L1657.8 289.4 L1657.8 353.2 L1658.8 353.2 L1658.8 289.4 C1660.3 270.5 1661.5 255.7 1663 255 C1664.6 255.6 1665.4 281.6 1668.6 283 C1675.2 285.1 1684.6 286.6 1695.2 286.9" fill="none" stroke="#030504" stroke-width="2.95" stroke-linejoin="round" stroke-linecap="round"/>
<path d="M1310.5 546.8 L1337.8 547.6 C1338.1 535.9 1337.8 526.8 1338.1 526.4 C1339 526.8 1339.5 545.2 1341.4 546.2 C1356.5 547.7 1377.6 548.7 1401.8 548.9 L1401.3 548.9 L1401.3 580 L1402.3 580 L1402.3 548.9 C1403.9 529.9 1405.4 515.1 1407 514.4 C1408.6 514.9 1409.4 539.9 1412.6 541.2 C1425.8 544.7 1444.4 547.1 1465.6 547.6 C1465.9 535.9 1465.6 526.8 1465.9 526.4 C1466.8 526.8 1467.3 545.2 1469.2 546.2 C1484.4 547.7 1505.6 548.7 1529.9 548.9 L1529.4 548.9 L1529.4 580 L1530.4 580 L1530.4 548.9 C1532 529.9 1533.5 515.1 1535.1 514.4 C1536.7 514.9 1537.5 539.9 1540.7 541.2 C1553.9 544.7 1572.3 547.1 1593.4 547.6 C1593.7 535.9 1593.4 526.8 1593.7 526.4 C1594.6 526.8 1595.1 545.2 1597 546.2 C1612.2 547.7 1633.5 548.7 1657.8 548.9 L1657.3 548.9 L1657.3 580 L1658.3 580 L1658.3 548.9 C1659.9 529.9 1661.4 515.1 1663 514.4 C1664.6 514.9 1665.4 539.9 1668.6 541.2 C1675.2 544.3 1684.6 546.4 1695.2 546.8" fill="none" stroke="#030504" stroke-width="2.95" stroke-linejoin="round" stroke-linecap="round"/>
<path d="M1310.5 692.5 L1338.1 693.6 L1337.6 693.6 L1337.6 757.6 L1338.6 757.6 L1338.6 693.6 C1338.9 692.2 1338.8 691.1 1339.1 691 C1339.7 691 1340 693.1 1341.3 693.2 C1356.4 694.2 1377.6 694.9 1401.8 695 L1401.3 695 L1401.3 634.3 L1402.3 634.3 L1402.4 671 C1403.8 668.6 1405 666.8 1406.4 666.7 C1408.1 667.1 1409 685.6 1412.6 686.6 C1425.9 690.5 1444.6 693 1465.9 693.6 L1465.4 693.6 L1465.4 757.6 L1466.4 757.6 L1466.4 693.6 C1466.7 692.2 1466.6 691.1 1466.9 691 C1467.5 691 1467.8 693.1 1469.1 693.2 C1484.3 694.2 1505.6 694.9 1529.9 695 L1529.4 695 L1529.4 634.3 L1530.4 634.3 L1530.5 671 C1531.9 668.6 1533.1 666.8 1534.5 666.7 C1536.2 667.1 1537.1 685.6 1540.7 686.6 C1554 690.5 1572.5 693 1593.7 693.6 L1593.2 693.6 L1593.2 757.6 L1594.2 757.6 L1594.2 693.6 C1594.5 692.2 1594.4 691.1 1594.7 691 C1595.3 691 1595.6 693.1 1596.9 693.2 C1612.1 694.2 1633.4 694.9 1657.8 695 L1657.3 695 L1657.3 634.3 L1658.3 634.3 L1658.4 671 C1659.8 668.6 1661 666.8 1662.4 666.7 C1664.1 667.1 1665 685.6 1668.6 686.6 C1676.3 689.8 1687.1 692 1699.5 692.5" fill="none" stroke="#030504" stroke-width="2.95" stroke-linejoin="round" stroke-linecap="round"/>
<path d="M1310.5 961.2 L1337.8 962 L1337.3 962 L1337.3 1016.8 L1338.3 1016.8 L1338.3 961.2 C1354.2 962.4 1376.4 963.1 1401.8 963.3 L1401.3 963.3 L1401.3 905.9 L1402.3 905.9 L1402.4 931 C1403.4 934 1404.3 936.4 1405.4 936.5 C1407.8 936.9 1408.9 955.9 1413.8 956.9 C1426.8 959.7 1444.9 961.6 1465.6 962 L1465.1 962 L1465.1 1016.8 L1466.1 1016.8 L1466.1 961.2 C1482 962.4 1504.4 963.1 1529.9 963.3 L1529.4 963.3 L1529.4 905.9 L1530.4 905.9 L1530.5 931 C1531.5 934 1532.5 936.4 1533.5 936.5 C1535.9 936.9 1537 955.9 1541.9 956.9 C1554.8 959.7 1572.8 961.6 1593.4 962 L1592.9 962 L1592.9 1016.8 L1593.9 1016.8 L1593.9 961.2 C1609.9 962.4 1632.2 963.1 1657.8 963.3 L1657.3 963.3 L1657.3 905.9 L1658.3 905.9 L1658.4 931 C1659.4 934 1660.3 936.4 1661.4 936.5 C1663.8 936.9 1664.9 955.9 1669.8 956.9 C1677.2 959.3 1687.6 960.9 1699.5 961.2" fill="none" stroke="#030504" stroke-width="2.95" stroke-linejoin="round" stroke-linecap="round"/>
<path d="M1310.5 1092.1 L1337.8 1093 L1337.3 1093 L1337.3 1127.8 L1338.3 1127.8 L1338.3 1092.2 C1354.2 1093.2 1376.4 1093.9 1401.8 1094.1 L1401.3 1094.1 L1401.3 1053 L1402.3 1053 L1402.4 1062 C1403.1 1064.2 1403.7 1065.9 1404.4 1066 C1407 1066.4 1408.3 1086.7 1413.8 1087.8 C1426.8 1090.7 1444.9 1092.6 1465.6 1093 L1465.1 1093 L1465.1 1127.8 L1466.1 1127.8 L1466.1 1092.2 C1482 1093.2 1504.4 1093.9 1529.9 1094.1 L1529.4 1094.1 L1529.4 1053 L1530.4 1053 L1530.5 1062 C1531.2 1064.2 1531.8 1065.9 1532.5 1066 C1535.1 1066.4 1536.4 1086.7 1541.9 1087.8 C1554.8 1090.7 1572.8 1092.6 1593.4 1093 L1592.9 1093 L1592.9 1127.8 L1593.9 1127.8 L1593.9 1092.2 C1609.9 1093.2 1632.2 1093.9 1657.8 1094.1 L1657.3 1094.1 L1657.3 1053 L1658.3 1053 L1658.4 1062 C1659.1 1064.2 1659.7 1065.9 1660.4 1066 C1663 1066.4 1664.3 1086.7 1669.8 1087.8 C1677.2 1090.2 1687.6 1091.8 1699.5 1092.1" fill="none" stroke="#030504" stroke-width="2.95" stroke-linejoin="round" stroke-linecap="round"/>
<path d="M1310.7 1214.8 L1337.8 1216 L1337.3 1216 L1337.3 1235.1 L1338.3 1235.1 L1338.3 1215.2 C1354.2 1216.2 1376.4 1216.9 1401.8 1217.1 C1402.7 1201.8 1403.5 1189.9 1404.4 1189.3 C1407 1189.7 1408.3 1210.5 1413.8 1211.6 C1426.8 1214 1444.9 1215.6 1465.6 1216 L1465.1 1216 L1465.1 1235.1 L1466.1 1235.1 L1466.1 1215.2 C1482 1216.2 1504.4 1216.9 1529.9 1217.1 C1530.8 1201.8 1531.6 1189.9 1532.5 1189.3 C1535.1 1189.7 1536.4 1210.5 1541.9 1211.6 C1554.8 1214 1572.8 1215.6 1593.4 1216 L1592.9 1216 L1592.9 1235.1 L1593.9 1235.1 L1593.9 1215.2 C1609.9 1216.2 1632.2 1216.9 1657.8 1217.1 C1658.7 1201.8 1659.5 1189.9 1660.4 1189.3 C1663 1189.7 1664.3 1210.5 1669.8 1211.6 C1677.3 1213.4 1687.8 1214.5 1699.8 1214.8" fill="none" stroke="#030504" stroke-width="2.95" stroke-linejoin="round" stroke-linecap="round"/>
<path d="M1310.7 1328.5 L1337.8 1329.6 L1337.3 1329.6 L1337.3 1340.6 L1338.3 1340.6 L1338.3 1328.8 C1354.2 1329.6 1376.4 1330.2 1401.8 1330.3 C1403.3 1316.7 1404.5 1306.1 1406 1305.6 C1408.5 1306 1409.7 1324.2 1414.8 1325.2 C1427.5 1327.6 1445.3 1329.2 1465.6 1329.6 L1465.1 1329.6 L1465.1 1340.6 L1466.1 1340.6 L1466.1 1328.8 C1482 1329.6 1504.4 1330.2 1529.9 1330.3 C1531.4 1316.7 1532.6 1306.1 1534.1 1305.6 C1536.6 1306 1537.8 1324.2 1542.9 1325.2 C1555.5 1327.6 1573.2 1329.2 1593.4 1329.6 L1592.9 1329.6 L1592.9 1340.6 L1593.9 1340.6 L1593.9 1328.8 C1609.9 1329.6 1632.2 1330.2 1657.8 1330.3 C1659.3 1316.7 1660.5 1306.1 1662 1305.6 C1664.5 1306 1665.7 1324.2 1670.8 1325.2 C1678 1327 1688.2 1328.2 1699.8 1328.5" fill="none" stroke="#030504" stroke-width="2.95" stroke-linejoin="round" stroke-linecap="round"/>
<path d="M1310.7 1421.2 L1337.8 1422.8 L1337.3 1422.8 L1337.3 1430 L1338.3 1430 L1338.3 1422 C1354.2 1422.9 1376.4 1423.5 1401.8 1423.6 Q1403.3 1423.9 1403.8 1419 C1405.1 1408.5 1406.1 1400.3 1407.4 1399.9 C1409.7 1400.3 1410.8 1417 1415.5 1417.9 C1428 1420.6 1445.6 1422.4 1465.6 1422.8 L1465.1 1422.8 L1465.1 1430 L1466.1 1430 L1466.1 1422 C1482 1422.9 1504.4 1423.5 1529.9 1423.6 Q1531.4 1423.9 1531.9 1419 C1533.2 1408.5 1534.2 1400.3 1535.5 1399.9 C1537.8 1400.3 1538.9 1417 1543.6 1417.9 C1556.1 1420.6 1573.5 1422.4 1593.4 1422.8 L1592.9 1422.8 L1592.9 1430 L1593.9 1430 L1593.9 1422 C1609.9 1422.9 1632.2 1423.5 1657.8 1423.6 Q1659.3 1423.9 1659.8 1419 C1661.1 1408.5 1662.1 1400.3 1663.4 1399.9 C1665.7 1400.3 1666.8 1417 1671.5 1417.9 C1678.6 1419.7 1688.5 1420.9 1699.8 1421.2" fill="none" stroke="#030504" stroke-width="2.95" stroke-linejoin="round" stroke-linecap="round"/>
<path d="M1310.7 1520.2 L1337.8 1522.6 L1337.3 1522.6 L1337.3 1526.8 L1338.3 1526.8 L1338.3 1521.8 C1354.2 1522.8 1376.4 1523.5 1401.8 1523.6 Q1403.8 1523.9 1404.8 1519 C1406.4 1506.5 1407.8 1496.8 1409.4 1496.3 C1411.5 1496.7 1412.5 1516 1416.8 1517 C1429 1520.1 1446.1 1522.2 1465.6 1522.6 L1465.1 1522.6 L1465.1 1526.8 L1466.1 1526.8 L1466.1 1521.8 C1482 1522.8 1504.4 1523.5 1529.9 1523.6 Q1531.9 1523.9 1532.9 1519 C1534.5 1506.5 1535.9 1496.8 1537.5 1496.3 C1539.6 1496.7 1540.6 1516 1544.9 1517 C1557 1520.1 1574 1522.2 1593.4 1522.6 L1592.9 1522.6 L1592.9 1526.8 L1593.9 1526.8 L1593.9 1521.8 C1609.9 1522.8 1632.2 1523.5 1657.8 1523.6 Q1659.8 1523.9 1660.8 1519 C1662.4 1506.5 1663.8 1496.8 1665.4 1496.3 C1667.5 1496.7 1668.5 1516 1672.8 1517 C1679.5 1519.2 1689 1520.7 1699.8 1521" fill="none" stroke="#030504" stroke-width="2.95" stroke-linejoin="round" stroke-linecap="round"/>
<path d="M1310.7 1616.9 L1337.8 1619 L1337.3 1619 L1337.3 1622 L1338.3 1622 L1338.3 1618.2 C1354.2 1619 1376.4 1619.5 1401.8 1619.6 Q1404 1619.9 1405.3 1615 C1406.9 1600.4 1408.4 1588.9 1410 1588.4 C1412 1588.9 1413.1 1611.8 1417.3 1613 C1429.4 1616.3 1446.3 1618.5 1465.6 1619 L1465.1 1619 L1465.1 1622 L1466.1 1622 L1466.1 1618.2 C1482 1619 1504.4 1619.5 1529.9 1619.6 Q1532.2 1619.9 1533.4 1615 C1535 1600.4 1536.5 1588.9 1538.1 1588.4 C1540.1 1588.9 1541.2 1611.8 1545.4 1613 C1557.4 1616.3 1574.2 1618.5 1593.4 1619 L1592.9 1619 L1592.9 1622 L1593.9 1622 L1593.9 1618.2 C1609.9 1619 1632.2 1619.5 1657.8 1619.6 Q1660 1619.9 1661.3 1615 C1662.9 1600.4 1664.4 1588.9 1666 1588.4 C1668 1588.9 1669.1 1611.8 1673.3 1613 C1679.9 1615.5 1689.2 1617.1 1699.8 1617.5" fill="none" stroke="#030504" stroke-width="2.95" stroke-linejoin="round" stroke-linecap="round"/>
<path d="M1310.7 1702.7 L1337.8 1704.8 L1337.3 1704.8 L1337.3 1707.5 L1338.3 1707.5 L1338.3 1704 C1354.2 1704.8 1376.4 1705.3 1401.8 1705.4 Q1404 1705.7 1405.3 1701 C1406.9 1685 1408.4 1672.5 1410 1671.9 C1412 1672.4 1413.1 1697.6 1417.3 1699 C1429.4 1702.2 1446.3 1704.3 1465.6 1704.8 L1465.1 1704.8 L1465.1 1707.5 L1466.1 1707.5 L1466.1 1704 C1482 1704.8 1504.4 1705.3 1529.9 1705.4 Q1532.2 1705.7 1533.4 1701 C1535 1685 1536.5 1672.5 1538.1 1671.9 C1540.1 1672.4 1541.2 1697.6 1545.4 1699 C1557.4 1702.2 1574.2 1704.3 1593.4 1704.8 L1592.9 1704.8 L1592.9 1707.5 L1593.9 1707.5 L1593.9 1704 C1609.9 1704.8 1632.2 1705.3 1657.8 1705.4 Q1660 1705.7 1661.3 1701 C1662.9 1685 1664.4 1672.5 1666 1671.9 C1668 1672.4 1669.1 1697.6 1673.3 1699 C1679.9 1701.2 1689.2 1702.7 1699.8 1703" fill="none" stroke="#030504" stroke-width="2.95" stroke-linejoin="round" stroke-linecap="round"/>
<rect x="255.8" y="357.9" width="14.6" height="14.6" rx="2" fill="#858585"/>
<rect x="371.2" y="378.7" width="14.6" height="14.6" rx="2" fill="#858585"/>
<rect x="313.7" y="781.7" width="14.6" height="14.6" rx="2" fill="#858585"/>
<rect x="451.5" y="797.7" width="14.6" height="14.6" rx="2" fill="#858585"/>
<rect x="677.8" y="422.3" width="14.6" height="14.6" rx="2" fill="#858585"/>
<rect x="805.5" y="431.1" width="14.6" height="14.6" rx="2" fill="#858585"/>
<rect x="930.7" y="430.5" width="14.6" height="14.6" rx="2" fill="#858585"/>
<rect x="1058.2" y="433.6" width="14.6" height="14.6" rx="2" fill="#858585"/>
<rect x="742.3" y="839" width="14.6" height="14.6" rx="2" fill="#858585"/>
<rect x="869.7" y="828.7" width="14.6" height="14.6" rx="2" fill="#858585"/>
<rect x="995.9" y="827.1" width="14.6" height="14.6" rx="2" fill="#858585"/>
<rect x="1122.4" y="827.1" width="14.6" height="14.6" rx="2" fill="#858585"/>
<rect x="1325.4" y="457.7" width="14.6" height="14.6" rx="2" fill="#858585"/>
<rect x="1451.2" y="457.7" width="14.6" height="14.6" rx="2" fill="#858585"/>
<rect x="1577.4" y="456.9" width="14.6" height="14.6" rx="2" fill="#858585"/>
<rect x="1383.6" y="849.3" width="14.6" height="14.6" rx="2" fill="#858585"/>
<rect x="1510.4" y="848.3" width="14.6" height="14.6" rx="2" fill="#858585"/>
<rect x="1636.9" y="849.3" width="14.6" height="14.6" rx="2" fill="#858585"/>
<rect x="676.6" y="234.9" width="36" height="67.3" fill="none" stroke="#5580dc" stroke-width="2"/>
<rect x="801.2" y="238" width="36" height="64.2" fill="none" stroke="#5580dc" stroke-width="2"/>
<rect x="929.6" y="237.4" width="36.6" height="65.4" fill="none" stroke="#5580dc" stroke-width="2"/>
<rect x="1052.3" y="237.4" width="36" height="63.2" fill="none" stroke="#5580dc" stroke-width="2"/>
<rect x="1318.2" y="233.3" width="36.4" height="62" fill="none" stroke="#5580dc" stroke-width="2"/>
<rect x="1447" y="235.1" width="36.5" height="59.4" fill="none" stroke="#5580dc" stroke-width="2"/>
<rect x="1575.8" y="235.1" width="37" height="59.4" fill="none" stroke="#5580dc" stroke-width="2"/>
<line x1="673.5" y1="216.1" x2="677.6" y2="234.9" stroke="#5580dc" stroke-width="2.2"/>
<line x1="855" y1="184.8" x2="835.7" y2="238" stroke="#5580dc" stroke-width="2.2"/>
<line x1="969.3" y1="177" x2="964" y2="237.4" stroke="#5580dc" stroke-width="2.2"/>
<line x1="1091.4" y1="177" x2="1086.1" y2="237.4" stroke="#5580dc" stroke-width="2.2"/>
<line x1="1397.2" y1="170.8" x2="1352.6" y2="233.3" stroke="#5580dc" stroke-width="2.2"/>
<line x1="1489" y1="181" x2="1476.3" y2="235.1" stroke="#5580dc" stroke-width="2.2"/>
<line x1="1557.4" y1="181" x2="1580.9" y2="235.1" stroke="#5580dc" stroke-width="2.2"/>
<rect x="745.5" y="645" width="36.9" height="60.4" fill="none" stroke="#f0963e" stroke-width="2.3"/>
<rect x="870.7" y="627.2" width="37.6" height="80.7" fill="none" stroke="#f0963e" stroke-width="2.3"/>
<line x1="736.1" y1="636.5" x2="745.5" y2="645" stroke="#f0963e" stroke-width="2.2"/>
<line x1="913" y1="616.2" x2="907.7" y2="627.2" stroke="#f0963e" stroke-width="2.2"/>
<circle cx="262" cy="315.7" r="8.9" fill="#0b3cb0"/>
<circle cx="396.2" cy="315.7" r="8.9" fill="#0b3cb0"/>
<circle cx="694.8" cy="316.3" r="8.9" fill="#0b3cb0"/>
<circle cx="815.9" cy="316.3" r="8.9" fill="#0b3cb0"/>
<circle cx="947.4" cy="316.3" r="8.9" fill="#0b3cb0"/>
<circle cx="1071.7" cy="316.3" r="8.9" fill="#0b3cb0"/>
<circle cx="328.9" cy="723.4" r="9" fill="#d24a04"/>
<circle cx="457.5" cy="723.4" r="9" fill="#d24a04"/>
<circle cx="761.8" cy="723.6" r="9" fill="#d24a04"/>
<circle cx="888.6" cy="723.6" r="9" fill="#d24a04"/>
<circle cx="1015.7" cy="723.6" r="9" fill="#d24a04"/>
<circle cx="1139.4" cy="723.6" r="9" fill="#d24a04"/>
<circle cx="1405.7" cy="723.6" r="9" fill="#d24a04"/>
<circle cx="1538.3" cy="723.6" r="9" fill="#d24a04"/>
<circle cx="1662.6" cy="723.6" r="9" fill="#d24a04"/>
<circle cx="1340.4" cy="315" r="9.4" fill="none" stroke="#000" stroke-width="3.7"/>
<circle cx="1470" cy="315" r="9.4" fill="none" stroke="#000" stroke-width="3.7"/>
<circle cx="1596.7" cy="315" r="9.4" fill="none" stroke="#000" stroke-width="3.7"/>
<path d="M888.6 291.2L904.4 321H872.8Z" fill="#f0141c"/>
<path d="M831.6 728.6L857.6 715.6V741.6Z" fill="#0b3cb0"/>
<path d="M833.2 996L859.2 983V1009Z" fill="#0b3cb0"/>
<path d="M831.6 1121.2L857.6 1108.2V1134.2Z" fill="#0b3cb0"/>
<path d="M261.5 359.8C275 367 300 374 330 379.3C420 395 600 415.2 788 433.5" fill="none" stroke="#1454ee" stroke-width="4.6" stroke-linecap="round"/>
<path d="M805.8 436.8L781.5 446.6L786.5 434L784 421.3Z" fill="#1454ee"/>
<path d="M752.5 844.7L850 837.3" fill="none" stroke="#f0841a" stroke-width="5.6" stroke-linecap="round"/>
<path d="M876 835.2L845.2 848.3L844 826Z" fill="#f0841a"/>
<line x1="513.1" y1="705.5" x2="513.1" y2="1575" stroke="#2b7a41" stroke-width="3.1" stroke-linecap="round"/>
<path d="M513.1 1592.6L501.9 1571.3H524.3Z" fill="#2b7a41"/>
<path d="M1237.6 1592.3V1626.7H1289.4" fill="none" stroke="#000" stroke-width="2.8"/>
<text x="126" y="37.3" font-size="45" font-weight="bold" font-style="normal" fill="#000" text-anchor="start" >A</text>
<text x="665.3" y="37.3" font-size="45" font-weight="bold" font-style="normal" fill="#000" text-anchor="start" >B</text>
<text x="1277" y="37.3" font-size="45" font-weight="bold" font-style="normal" fill="#000" text-anchor="start" >C</text>
<text x="270.5" y="54.8" font-size="46.5" font-weight="normal" font-style="normal" fill="#000" text-anchor="start" >Onset</text>
<text x="780.5" y="54.8" font-size="46" font-weight="normal" font-style="normal" fill="#000" text-anchor="start" >Intermediate</text>
<text x="1432" y="54.8" font-size="46" font-weight="normal" font-style="normal" fill="#000" text-anchor="start" >Steady</text>
<text x="2.6" y="263.7" font-size="45" font-weight="normal" font-style="normal" fill="#000" text-anchor="start" ><tspan font-style="italic" font-size="45" dy="-1" textLength="26.5" lengthAdjust="spacingAndGlyphs">V</tspan><tspan x="27" font-size="28" dy="10">m</tspan><tspan x="48.6" dy="-3.4" font-size="40" textLength="25" lengthAdjust="spacingAndGlyphs">_</tspan><tspan x="72.6" dy="-5.6" font-weight="bold" font-size="45.2">Node</tspan><tspan font-weight="bold" font-size="30.5" dy="9" dx="0.5">10</tspan></text>
<text x="2.6" y="576.1" font-size="45" font-weight="normal" font-style="normal" fill="#000" text-anchor="start" ><tspan font-style="italic" font-size="45" dy="-1" textLength="26.5" lengthAdjust="spacingAndGlyphs">V</tspan><tspan x="27" font-size="28" dy="10">m</tspan><tspan x="48.6" dy="-3.4" font-size="40" textLength="25" lengthAdjust="spacingAndGlyphs">_</tspan><tspan x="72.6" dy="-5.6" font-weight="normal" font-size="45.2">Node</tspan><tspan font-weight="normal" font-size="30.5" dy="9" dx="0.5">9</tspan></text>
<text x="2.6" y="693.3" font-size="45" font-weight="normal" font-style="normal" fill="#000" text-anchor="start" ><tspan font-style="italic" font-size="45" dy="-1" textLength="26.5" lengthAdjust="spacingAndGlyphs">V</tspan><tspan x="27" font-size="28" dy="10">m</tspan><tspan x="48.6" dy="-3.4" font-size="40" textLength="25" lengthAdjust="spacingAndGlyphs">_</tspan><tspan x="72.6" dy="-5.6" font-weight="bold" font-size="45.2">Node</tspan><tspan font-weight="bold" font-size="30.5" dy="9" dx="0.5">8</tspan></text>
<text x="2.6" y="976.4" font-size="45" font-weight="normal" font-style="normal" fill="#000" text-anchor="start" ><tspan font-style="italic" font-size="45" dy="-1" textLength="26.5" lengthAdjust="spacingAndGlyphs">V</tspan><tspan x="27" font-size="28" dy="10">m</tspan><tspan x="48.6" dy="-3.4" font-size="40" textLength="25" lengthAdjust="spacingAndGlyphs">_</tspan><tspan x="72.6" dy="-5.6" font-weight="normal" font-size="45.2">Node</tspan><tspan font-weight="normal" font-size="30.5" dy="9" dx="0.5">7</tspan></text>
<text x="2.6" y="1094.3" font-size="45" font-weight="normal" font-style="normal" fill="#000" text-anchor="start" ><tspan font-style="italic" font-size="45" dy="-1" textLength="26.5" lengthAdjust="spacingAndGlyphs">V</tspan><tspan x="27" font-size="28" dy="10">m</tspan><tspan x="48.6" dy="-3.4" font-size="40" textLength="25" lengthAdjust="spacingAndGlyphs">_</tspan><tspan x="72.6" dy="-5.6" font-weight="normal" font-size="45.2">Node</tspan><tspan font-weight="normal" font-size="30.5" dy="9" dx="0.5">6</tspan></text>
<text x="2.6" y="1223" font-size="45" font-weight="normal" font-style="normal" fill="#000" text-anchor="start" ><tspan font-style="italic" font-size="45" dy="-1" textLength="26.5" lengthAdjust="spacingAndGlyphs">V</tspan><tspan x="27" font-size="28" dy="10">m</tspan><tspan x="48.6" dy="-3.4" font-size="40" textLength="25" lengthAdjust="spacingAndGlyphs">_</tspan><tspan x="72.6" dy="-5.6" font-weight="normal" font-size="45.2">Node</tspan><tspan font-weight="normal" font-size="30.5" dy="9" dx="0.5">5</tspan></text>
<text x="2.6" y="1331.9" font-size="45" font-weight="normal" font-style="normal" fill="#000" text-anchor="start" ><tspan font-style="italic" font-size="45" dy="-1" textLength="26.5" lengthAdjust="spacingAndGlyphs">V</tspan><tspan x="27" font-size="28" dy="10">m</tspan><tspan x="48.6" dy="-3.4" font-size="40" textLength="25" lengthAdjust="spacingAndGlyphs">_</tspan><tspan x="72.6" dy="-5.6" font-weight="normal" font-size="45.2">Node</tspan><tspan font-weight="normal" font-size="30.5" dy="9" dx="0.5">4</tspan></text>
<text x="2.6" y="1424.7" font-size="45" font-weight="normal" font-style="normal" fill="#000" text-anchor="start" ><tspan font-style="italic" font-size="45" dy="-1" textLength="26.5" lengthAdjust="spacingAndGlyphs">V</tspan><tspan x="27" font-size="28" dy="10">m</tspan><tspan x="48.6" dy="-3.4" font-size="40" textLength="25" lengthAdjust="spacingAndGlyphs">_</tspan><tspan x="72.6" dy="-5.6" font-weight="normal" font-size="45.2">Node</tspan><tspan font-weight="normal" font-size="30.5" dy="9" dx="0.5">3</tspan></text>
<text x="2.6" y="1526.7" font-size="45" font-weight="normal" font-style="normal" fill="#000" text-anchor="start" ><tspan font-style="italic" font-size="45" dy="-1" textLength="26.5" lengthAdjust="spacingAndGlyphs">V</tspan><tspan x="27" font-size="28" dy="10">m</tspan><tspan x="48.6" dy="-3.4" font-size="40" textLength="25" lengthAdjust="spacingAndGlyphs">_</tspan><tspan x="72.6" dy="-5.6" font-weight="normal" font-size="45.2">Node</tspan><tspan font-weight="normal" font-size="30.5" dy="9" dx="0.5">2</tspan></text>
<text x="2.6" y="1618.5" font-size="45" font-weight="normal" font-style="normal" fill="#000" text-anchor="start" ><tspan font-style="italic" font-size="45" dy="-1" textLength="26.5" lengthAdjust="spacingAndGlyphs">V</tspan><tspan x="27" font-size="28" dy="10">m</tspan><tspan x="48.6" dy="-3.4" font-size="40" textLength="25" lengthAdjust="spacingAndGlyphs">_</tspan><tspan x="72.6" dy="-5.6" font-weight="normal" font-size="45.2">Node</tspan><tspan font-weight="normal" font-size="30.5" dy="9" dx="0.5">1</tspan></text>
<text x="2.6" y="1703" font-size="45" font-weight="normal" font-style="normal" fill="#000" text-anchor="start" ><tspan font-style="italic" font-size="45" dy="-1" textLength="26.5" lengthAdjust="spacingAndGlyphs">V</tspan><tspan x="27" font-size="28" dy="10">m</tspan><tspan x="48.6" dy="-3.4" font-size="40" textLength="25" lengthAdjust="spacingAndGlyphs">_</tspan><tspan x="72.6" dy="-5.6" font-weight="normal" font-size="45.2">Node</tspan><tspan font-weight="normal" font-size="30.5" dy="9" dx="0.5">0</tspan></text>
<text x="192.3" y="370.6" font-size="38.5" font-weight="normal" font-style="normal" fill="#000" text-anchor="end" >1.0</text>
<text x="192.3" y="435.2" font-size="38.5" font-weight="normal" font-style="normal" fill="#000" text-anchor="end" >0.5</text>
<text x="192.3" y="496" font-size="38.5" font-weight="normal" font-style="normal" fill="#000" text-anchor="end" >0</text>
<text x="192.3" y="780.6" font-size="38.5" font-weight="normal" font-style="normal" fill="#000" text-anchor="end" >1.0</text>
<text x="192.3" y="845.2" font-size="38.5" font-weight="normal" font-style="normal" fill="#000" text-anchor="end" >0.5</text>
<text x="192.3" y="906" font-size="38.5" font-weight="normal" font-style="normal" fill="#000" text-anchor="end" >0</text>
<text transform="translate(84.5 412) rotate(-90)" font-size="46" font-weight="bold" text-anchor="middle"><tspan font-style="italic">h</tspan>_Na</text>
<text transform="translate(129.5 414.5) rotate(-90)" font-size="46" font-weight="bold" text-anchor="middle">Node<tspan font-size="30" dy="8">10</tspan></text>
<text transform="translate(84.5 822) rotate(-90)" font-size="46" font-weight="bold" text-anchor="middle"><tspan font-style="italic">h</tspan>_Na</text>
<text transform="translate(129.5 824.5) rotate(-90)" font-size="46" font-weight="bold" text-anchor="middle">Node<tspan font-size="30" dy="8">8</tspan></text>
<text x="534" y="208" font-size="39" font-weight="normal" font-style="normal" fill="#1a5ae6" text-anchor="start" letter-spacing="0.3">Initial AP</text>
<text x="794" y="162" font-size="39" font-weight="bold" font-style="normal" fill="#1a5ae6" text-anchor="start" >Decreased initial AP</text>
<text x="655.5" y="400.8" font-size="39" font-weight="bold" font-style="normal" fill="#1a5ae6" text-anchor="start" >Decreased h<tspan dy="4">_</tspan><tspan dy="-4">Na</tspan></text>
<text x="1402.5" y="164.4" font-size="39" font-weight="normal" font-style="normal" fill="#1a5ae6" text-anchor="start" letter-spacing="0.3" xml:space="preserve">No  initial AP</text>
<text x="1313" y="382.6" font-size="45.5" font-weight="bold" font-style="normal" fill="#1a5ae6" text-anchor="start" >Generation failure</text>
<text x="613.5" y="626.5" font-size="39" font-weight="normal" font-style="normal" fill="#ee7d1c" text-anchor="start" letter-spacing="0.3">Initial AP</text>
<text x="787.5" y="610" font-size="39" font-weight="bold" font-style="normal" fill="#ee7d1c" text-anchor="start" >Increased initial AP</text>
<text x="664" y="811.9" font-size="39" font-weight="bold" font-style="normal" fill="#ee7d1c" text-anchor="start" >Increased <tspan font-style="italic">h</tspan><tspan dy="4">_</tspan><tspan dy="-4">Na</tspan></text>
<text x="883.5" y="1267.4" font-size="39" font-weight="bold" font-style="normal" fill="#1a5ae6" text-anchor="end" >Conduction</text>
<text x="883.5" y="1302.8" font-size="39" font-weight="bold" font-style="normal" fill="#1a5ae6" text-anchor="end" >failure</text>
<text x="394.5" y="1735.5" font-size="39.3" font-weight="normal" font-style="normal" fill="#000" text-anchor="start" letter-spacing="0.3">Successful AP</text>
<text transform="translate(556 1354.5) rotate(-90)" font-size="46" fill="#2b7a41">Successful conduction</text>
<text x="193" y="1841.7" font-size="45.3" font-weight="normal" font-style="normal" fill="#000" text-anchor="start" >0</text>
<text x="405.5" y="1841.7" font-size="45.3" font-weight="normal" font-style="normal" fill="#000" text-anchor="start" >0.04</text>
<text x="662.5" y="1842.6" font-size="45.3" font-weight="normal" font-style="normal" fill="#000" text-anchor="start" >0.07</text>
<text x="1039" y="1842.6" font-size="45.3" font-weight="normal" font-style="normal" fill="#000" text-anchor="start" >0.12</text>
<text x="1331.5" y="1842.2" font-size="45.3" font-weight="normal" font-style="normal" fill="#000" text-anchor="start" >9.95</text>
<text x="1670.5" y="1842.2" font-size="45.3" font-weight="normal" font-style="normal" fill="#000" text-anchor="start" >10</text>
<text x="1547.5" y="1891" font-size="45.3" font-weight="normal" font-style="normal" fill="#000" text-anchor="start" >Time (s)</text>
<text x="1224.5" y="1666" font-size="39" font-weight="normal" font-style="normal" fill="#000" text-anchor="start" >10 ms</text>
<text transform="translate(1220.5 1659.5) rotate(-90)" font-size="39">50 mV</text>
<circle cx="79.3" cy="1952" r="9.2" fill="#0b3cb0"/>
<text x="106.5" y="1968.7" font-size="39" font-weight="normal" font-style="normal" fill="#000" text-anchor="start" >AP initiates at Node<tspan font-size="26" dy="8">10</tspan></text>
<circle cx="547.8" cy="1952" r="9.2" fill="#d24a04"/>
<text x="564" y="1968.7" font-size="39" font-weight="normal" font-style="normal" fill="#000" text-anchor="start" >AP initiates at Node<tspan font-size="26" dy="8">8</tspan></text>
<circle cx="994" cy="1950.5" r="8.5" fill="none" stroke="#000" stroke-width="3"/>
<text x="1017" y="1968.7" font-size="39" font-weight="normal" font-style="normal" fill="#000" text-anchor="start" >AP generation failure</text>
<path d="M1436.8 1957.5L1463 1944.4V1970.6Z" fill="#0b3cb0"/>
<text x="1476.5" y="1968.7" font-size="39" font-weight="normal" font-style="normal" fill="#000" text-anchor="start" >Hyperpolarized</text>
</svg>
</body></html>
